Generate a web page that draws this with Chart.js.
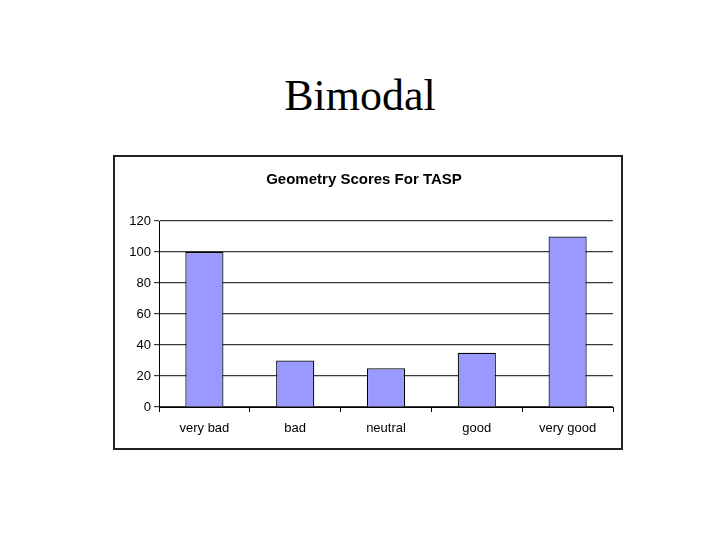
<!DOCTYPE html>
<html>
<head>
<meta charset="utf-8">
<script src="https://cdn.jsdelivr.net/npm/chart.js@4/dist/chart.umd.min.js"></script>
<style>
  body { margin:0; width:720px; height:540px; background:#fff; position:relative; overflow:hidden; }
  #slideTitle { position:absolute; left:0; top:70px; width:720px; text-align:center;
    font-family:"Liberation Serif","Times New Roman",serif; font-size:44px; color:#000; }
  #box { position:absolute; left:113px; top:155px; width:506px; height:291px; border:2px solid #222; }
  #box canvas { display:block; }
</style>
</head>
<body>
<div id="slideTitle">Bimodal</div>
<div id="box"><canvas id="myChart" width="506" height="291"></canvas></div>
<script>
const categories = ['very bad', 'bad', 'neutral', 'good', 'very good'];
const scores = [100, 30, 25, 35, 110];
const yTicks = [0, 20, 40, 60, 80, 100, 120];

const ctx = document.getElementById('myChart');

new Chart(ctx, {
  type: 'bar',
  data: {
    labels: categories,
    datasets: [{
      label: 'Scores',
      data: scores,
      backgroundColor: '#9999ff',
      borderColor: '#000',
      borderWidth: 1.2,
      barPercentage: 0.42,
      categoryPercentage: 1
    }]
  },
  options: {
    responsive: false,
    animation: false,
    layout: { padding: { left: 0, right: 8, top: 0, bottom: 0 } },
    plugins: {
      legend: { display: false },
      tooltip: { enabled: false },
      title: {
        display: true,
        text: 'Geometry Scores For TASP',
        color: '#000',
        font: { family: 'Liberation Sans, Arial, sans-serif', size: 15, weight: 'bold' },
        padding: { top: 14, bottom: 32 }
      }
    },
    scales: {
      x: {
        afterFit: s => { s.height = 41; },
        grid: { display: true, drawOnChartArea: false, drawTicks: true, tickLength: 5, color: '#000', offset: true },
        border: { color: '#000', width: 1 },
        ticks: { color: '#000', padding: 9, font: { family: 'Liberation Sans, Arial, sans-serif', size: 13 } }
      },
      y: {
        min: 0,
        max: 120,
        afterFit: s => { s.width = 44; },
        afterBuildTicks: s => { s.ticks = yTicks.map(v => ({ value: v })); },
        grid: { color: '#3a3a3a', tickLength: 5, lineWidth: 1.2 },
        border: { color: '#000', width: 1 },
        ticks: { color: '#000', padding: 3, font: { family: 'Liberation Sans, Arial, sans-serif', size: 13 } }
      }
    }
  }
});
</script>
</body>
</html>
